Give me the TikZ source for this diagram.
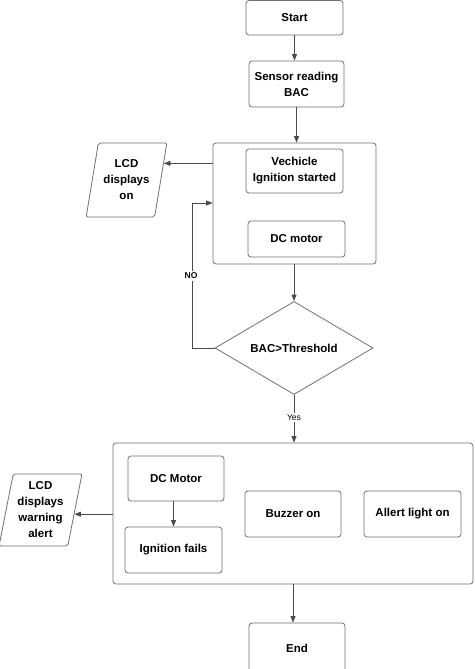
\documentclass[tikz,border=0pt]{standalone}
\usepackage{fontspec}
\setmainfont{Liberation Sans}
\usetikzlibrary{shapes.geometric,arrows.meta}
\definecolor{boxc}{HTML}{707070}
\definecolor{arrc}{HTML}{4A4A4A}
\tikzset{
  box/.style={draw=boxc, line width=0.8pt, rounded corners=3pt, align=center,
    font=\fontsize{11.5}{16}\selectfont\bfseries, inner sep=2pt},
  bigbox/.style={draw=boxc, line width=0.8pt, rounded corners=3pt},
  para/.style={draw=boxc, line width=0.8pt, trapezium, trapezium stretches=true,
    rounded corners=2pt, align=center, font=\fontsize{11.5}{16}\selectfont\bfseries, inner sep=0pt},
  dec/.style={draw=boxc, line width=0.8pt, diamond, shape aspect=1.7, inner sep=0pt,
    font=\fontsize{11.5}{16}\selectfont\bfseries},
  arr/.style={draw=arrc, line width=0.8pt, -{Triangle[length=6.5pt,width=5pt]}},
  lbl/.style={fill=white, inner sep=1.5pt, font=\fontsize{8.5}{10}\selectfont}
}
\begin{document}
\begin{tikzpicture}[x=1pt,y=-1pt]
\useasboundingbox (0,0) rectangle (474,669);
\fill[white] (0,0) rectangle (474,669);

\node[box, minimum width=97pt, minimum height=34.5pt] (start) at (294.5,17.75) {Start};
\node[box, minimum width=95pt, minimum height=46pt] (sensor) at (296.5,84) {Sensor reading\\BAC};

\node[bigbox, minimum width=163pt, minimum height=121pt] (box1) at (294.5,203.5) {};
\node[box, minimum width=97pt, minimum height=44pt] (vech) at (294.5,171) {Vechicle\\Ignition started};
\node[box, minimum width=97pt, minimum height=36pt] (dcm1) at (296.5,239) {DC motor};

\node[para, trapezium left angle=76, trapezium right angle=104,
  minimum width=81pt, minimum height=74pt] (lcd1) at (126.5,180) {LCD\\displays\\on};

\node[dec, minimum width=158pt, minimum height=93pt] (dec) at (294,348) {BAC>Threshold};

\node[bigbox, minimum width=360pt, minimum height=141pt] (box2) at (293,513.5) {};
\node[box, minimum width=96pt, minimum height=45pt] (dcm2) at (176,478.5) {DC Motor};
\node[box, minimum width=97pt, minimum height=46pt] (ign) at (173.5,550) {Ignition fails};
\node[box, minimum width=96pt, minimum height=46pt] (buzz) at (293,514) {Buzzer on};
\node[box, minimum width=97pt, minimum height=46pt] (alert) at (412.5,514) {Allert light on};

\node[para, trapezium left angle=78, trapezium right angle=102,
  minimum width=83pt, minimum height=72pt] (lcd2) at (40.5,510) {LCD\\displays\\warning\\alert};

\node[box, minimum width=96pt, minimum height=50pt] (end) at (297,648) {End};

% connectors
\draw[arr] (start.south) -- (start.south |- sensor.north);
\draw[arr] (sensor.south) -- (sensor.south |- box1.north);
\draw[arr] (box1.west |- lcd1.24) -- (lcd1.24);
\draw[arr] (dec.north |- box1.south) -- (dec.north);
\coordinate (nob) at (192,348);
\coordinate (not) at (192,203);
\draw[arr] (dec.west) -- (nob) -- (not) -- (box1.west |- not);
\node[lbl, font=\fontsize{8.5}{10}\selectfont\bfseries] (no) at (191,276) {NO};
\draw[arr] (dec.south) -- (dec.south |- box2.north) node[lbl, pos=0.47] (yes) {Yes};
\draw[arr] (ign.north |- dcm2.south) -- (ign.north);
\draw[arr] (box2.west |- lcd2.-7) -- (lcd2.-7);
\draw[arr] (box2.south) -- (box2.south |- end.north);
\end{tikzpicture}
\end{document}
